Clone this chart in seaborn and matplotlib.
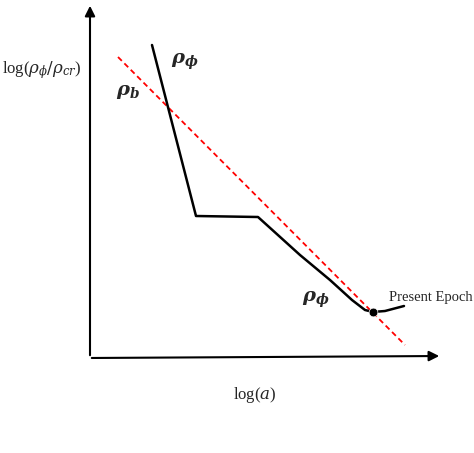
import matplotlib
matplotlib.use("Agg")
import matplotlib.pyplot as plt
import seaborn as sns

# schematic curve (pixel-like coordinates of the diagram)
curve_x = [152, 196, 258, 300, 330, 352, 365, 373, 385, 404]
curve_y = [45, 216, 217, 255, 280, 300, 310, 312, 311, 306]
red_x = [118, 405]
red_y = [57, 345]
epoch_x = [373]
epoch_y = [312]

sns.set_style("white")
plt.rcParams['font.family'] = ['Liberation Serif', 'DejaVu Serif']
plt.rcParams['mathtext.fontset'] = 'dejavuserif'

fig = plt.figure(figsize=(4.74, 4.53), dpi=100)
ax = fig.add_axes([0, 0, 1, 1])
ax.set_xlim(0, 474)
ax.set_ylim(453, 0)
ax.axis("off")

sns.lineplot(x=red_x, y=red_y, ax=ax, color="red", linestyle=(0, (3, 2)), linewidth=1.3, sort=False)
sns.lineplot(x=curve_x, y=curve_y, ax=ax, color="black", linewidth=1.8, sort=False)
sns.scatterplot(x=epoch_x, y=epoch_y, ax=ax, color="black", s=40, zorder=5)

ax.annotate("", xy=(90, 3), xytext=(90, 358),
            arrowprops=dict(arrowstyle="-|>", color="black", lw=1.5, mutation_scale=15))
ax.annotate("", xy=(442, 356), xytext=(89, 358),
            arrowprops=dict(arrowstyle="-|>", color="black", lw=1.5, mutation_scale=15))

ax.text(42, 70, r"log($\rho_\phi/\rho_{cr}$)", ha="center", va="center", fontsize=12)
ax.text(128, 92, r"$\mathbfit{\rho_b}$", ha="center", va="center", fontsize=14)
ax.text(185, 62, r"$\mathbfit{\rho_\phi}$", ha="center", va="center", fontsize=14)
ax.text(316, 300, r"$\mathbfit{\rho_\phi}$", ha="center", va="center", fontsize=14)
ax.text(389, 298, "Present Epoch", ha="left", va="center", fontsize=10.5)
ax.text(255, 395, r"log($a$)", ha="center", va="center", fontsize=12)

fig.savefig("out.png", dpi=100)
